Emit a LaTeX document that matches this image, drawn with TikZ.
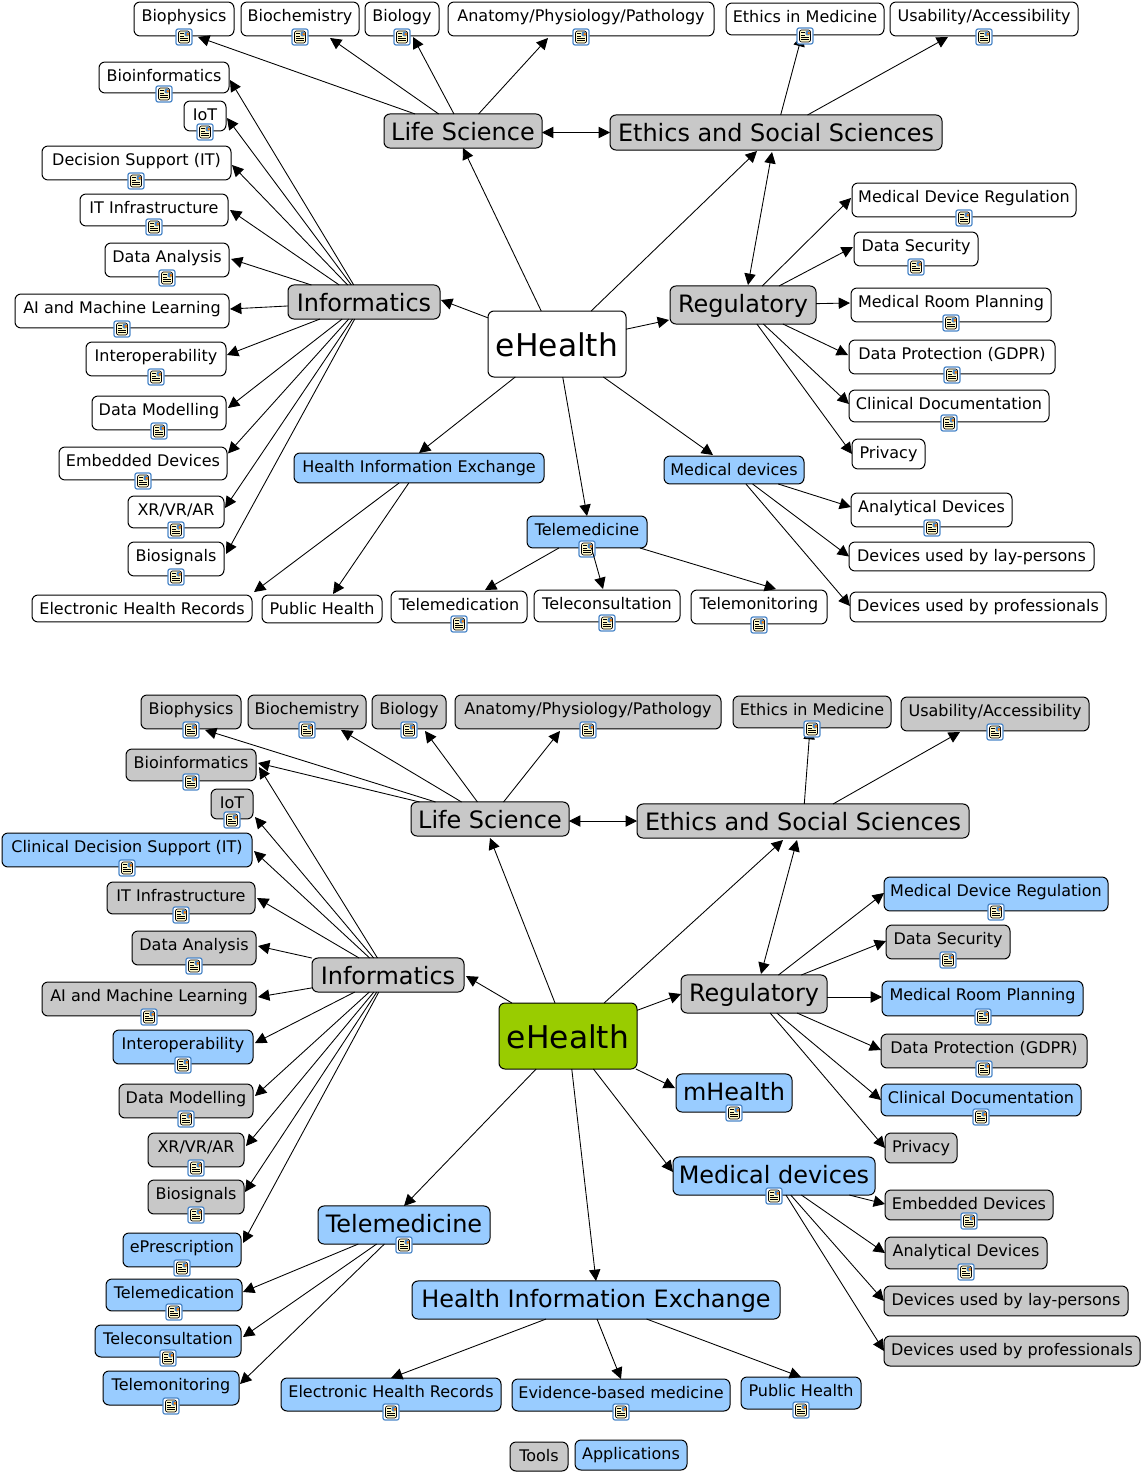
\documentclass[tikz,border=0pt]{standalone}
\usepackage{fontspec}
\setmainfont{DejaVu Sans}
\usetikzlibrary{arrows.meta}
\definecolor{greybox}{HTML}{C8C8C8}
\definecolor{bluebox}{HTML}{99CCFF}
\definecolor{greenbox}{HTML}{99CC00}
\definecolor{doctile}{HTML}{4A86C8}
\definecolor{docpaper}{HTML}{FFF8C8}
\newcommand{\fsmall}{\fontsize{12}{14}\selectfont}
\newcommand{\fbig}{\fontsize{17.95}{21}\selectfont}
\newcommand{\fhuge}{\fontsize{23.5}{28}\selectfont}
\tikzset{
  box/.style={draw=black,line width=0.75pt,rounded corners=4.5pt,inner sep=0pt,outer sep=0pt,font=\fsmall},
  plainbox/.style={box,fill=white},
  greyish/.style={box,fill=greybox},
  blueish/.style={box,fill=bluebox},
  bw/.style={minimum width=#1*0.75pt},
  bh/.style={text height=14.6pt,text depth=(#1-19.5)*0.75pt},
  gh/.style={font=\fbig,text height=19.6pt,text depth=(#1-26.1)*0.75pt},
  rootbox/.style={box,font=\fhuge,minimum width=103.5pt,text height=33.75pt,text depth=15.75pt},
  doc/.style={draw=doctile,line width=0.9pt,fill=white,rounded corners=1.5pt,inner sep=0pt,outer sep=0pt,
    minimum size=12pt,path picture={
      \draw[black,line width=0.5pt,fill=docpaper] ([shift={(-5.5,-6)}]path picture bounding box.center) rectangle ([shift={(5.5,6)}]path picture bounding box.center);
      \fill[doctile] ([shift={(0.5,-5.5)}]path picture bounding box.center) rectangle ([shift={(5,-0.5)}]path picture bounding box.center);
      \fill[orange] ([shift={(2.5,-4)}]path picture bounding box.center) rectangle ([shift={(5,-1.5)}]path picture bounding box.center);
      \draw[black,line width=0.5pt] ([shift={(-4,-4)}]path picture bounding box.center) -- ([shift={(-0.5,-4)}]path picture bounding box.center);
      \draw[black,line width=0.5pt] ([shift={(-4,-1)}]path picture bounding box.center) -- ([shift={(-0.5,-1)}]path picture bounding box.center);
      \draw[black,line width=0.5pt] ([shift={(-4,1.5)}]path picture bounding box.center) -- ([shift={(4,1.5)}]path picture bounding box.center);
      \draw[black,line width=0.5pt] ([shift={(-4,3.8)}]path picture bounding box.center) -- ([shift={(4,3.8)}]path picture bounding box.center);
    }},
  arr/.style={-{Triangle[length=8.5pt,width=8.5pt]},black,line width=0.65pt,shorten >=0pt},
  arrtw/.style={{Triangle[length=8.5pt,width=8.5pt]}-{Triangle[length=8.5pt,width=8.5pt]},black,line width=0.65pt}
}
\begin{document}
\begin{tikzpicture}[x=0.75pt,y=-0.75pt]
\useasboundingbox (0,0) rectangle (1142,1473);
% upper map
\node[plainbox,bw=100,bh=34] (tBiophys) at (184,19) {Biophysics};
\node[doc] (tBiophysDoc) at (184,37) {};
\node[plainbox,bw=118,bh=34] (tBiochem) at (300,19) {Biochemistry};
\node[doc] (tBiochemDoc) at (300,37) {};
\node[plainbox,bw=74,bh=34] (tBiology) at (402,19) {Biology};
\node[doc] (tBiologyDoc) at (402,37) {};
\node[plainbox,bw=266,bh=34] (tAnatomy) at (581,19) {Anatomy/Physiology/Pathology};
\node[doc] (tAnatomyDoc) at (581,37) {};
\node[plainbox,bw=158,bh=32] (tEthMed) at (805,19) {Ethics in Medicine};
\node[plainbox,bw=188,bh=34] (tUsab) at (984,19) {Usability/Accessibility};
\node[doc] (tUsabDoc) at (984,37) {};
\node[plainbox,bw=130,bh=31] (tBioinf) at (164,77.5) {Bioinformatics};
\node[doc] (tBioinfDoc) at (164,94) {};
\node[plainbox,bw=42,bh=30] (tIot) at (205,116) {IoT};
\node[doc] (tIotDoc) at (205,132) {};
\node[plainbox,bw=189,bh=34] (tDecSup) at (136.5,163) {Decision Support (IT)};
\node[doc] (tDecSupDoc) at (136,181) {};
\node[plainbox,bw=148,bh=32] (tInfra) at (154,210) {IT Infrastructure};
\node[doc] (tInfraDoc) at (154,227) {};
\node[plainbox,bw=124,bh=34] (tAnalysis) at (167,260) {Data Analysis};
\node[doc] (tAnalysisDoc) at (167,278) {};
\node[plainbox,bw=214,bh=34] (tAiMl) at (122,311) {AI and Machine Learning};
\node[doc] (tAiMlDoc) at (122,329) {};
\node[plainbox,bw=140,bh=34] (tInterop) at (156,359) {Interoperability};
\node[doc] (tInteropDoc) at (156,377) {};
\node[plainbox,bw=134,bh=34] (tModel) at (159,413) {Data Modelling};
\node[doc] (tModelDoc) at (159,431) {};
\node[plainbox,bw=168,bh=33] (tEmbed) at (143,463.5) {Embedded Devices};
\node[doc] (tEmbedDoc) at (143,481) {};
\node[plainbox,bw=96,bh=32] (tXr) at (176,512) {XR/VR/AR};
\node[doc] (tXrDoc) at (176,530) {};
\node[plainbox,bw=96,bh=34] (tSignals) at (176,559) {Biosignals};
\node[doc] (tSignalsDoc) at (176,577) {};
\node[plainbox,bw=220,bh=27] (tEhr) at (142,608.5) {Electronic Health Records};
\node[plainbox,bw=120,bh=28] (tPublic) at (322,609) {Public Health};
\node[plainbox,bw=136,bh=32] (tMedic) at (459,607) {Telemedication};
\node[doc] (tMedicDoc) at (459,624) {};
\node[plainbox,bw=146,bh=32] (tConsult) at (607,606) {Teleconsultation};
\node[doc] (tConsultDoc) at (607,623) {};
\node[plainbox,bw=136,bh=34] (tMonitor) at (759,607) {Telemonitoring};
\node[doc] (tMonitorDoc) at (759,625) {};
\node[blueish,bw=120,bh=32] (tTele) at (587,532) {Telemedicine};
\node[doc] (tTeleDoc) at (587,549) {};
\node[blueish,bw=250,bh=30] (tHie) at (419,468) {Health Information Exchange};
\node[blueish,bw=140,bh=28] (tDevices) at (734,470) {Medical devices};
\node[plainbox,bw=161,bh=34] (tAnalyt) at (931.5,510) {Analytical Devices};
\node[doc] (tAnalytDoc) at (932,528) {};
\node[plainbox,bw=245,bh=29] (tLay) at (971.5,556.5) {Devices used by lay-persons};
\node[plainbox,bw=256,bh=30] (tProf) at (978,607) {Devices used by professionals};
\node[plainbox,bw=73,bh=30] (tPrivacy) at (888.5,454) {Privacy};
\node[plainbox,bw=200,bh=32] (tClin) at (949,406) {Clinical Documentation};
\node[doc] (tClinDoc) at (949,423) {};
\node[plainbox,bw=206,bh=34] (tGdpr) at (952,357) {Data Protection (GDPR)};
\node[doc] (tGdprDoc) at (952,375) {};
\node[plainbox,bw=200,bh=34] (tRoom) at (951,305) {Medical Room Planning};
\node[doc] (tRoomDoc) at (951,323) {};
\node[plainbox,bw=124,bh=34] (tSecur) at (916,249) {Data Security};
\node[doc] (tSecurDoc) at (916,267) {};
\node[plainbox,bw=224,bh=34] (tMdr) at (964,200) {Medical Device Regulation};
\node[doc] (tMdrDoc) at (964,218) {};
\node[greyish,bw=146,gh=38] (tReg) at (743,305) {Regulatory};
\node[greyish,bw=152,gh=34] (tInfo) at (364,302) {Informatics};
\node[greyish,bw=158,gh=34] (tLife) at (463,131) {Life Science};
\node[greyish,bw=332,gh=35] (tSocial) at (776,132.5) {Ethics and Social Sciences};
\node[rootbox,fill=white] (tRoot) at (557,344) {eHealth};
% upper links
\draw[arr] (tLife) -- ([shift={(14,1)}]tBiophys.south);
\draw[arr] (tLife) -- ([shift={(30,2)}]tBiochem.south);
\draw[arr] (tLife) -- ([shift={(11,1)}]tBiology.south);
\draw[arr] (tLife) -- ([shift={(-33,2)}]tAnatomy.south);
\draw[arr] (tSocial) -- ([shift={(-3,0)}]tEthMed.south);
\node[doc] (tEthMedDoc) at (805,36) {};
\draw[arr] (tSocial) -- ([shift={(-36,1)}]tUsab.south);
\draw[arrtw] ([shift={(0,1.5)}]tLife.east) -- (tSocial.west);
\draw[arr] (tRoot) -- (tLife.south);
\draw[arr] (tRoot) -- ([shift={(-19,1)}]tSocial.south);
\draw[arrtw] ([shift={(-4,2)}]tSocial.south) -- ([shift={(5,-1)}]tReg.north);
\draw[arr] (tRoot) -- ([shift={(-1,15)}]tReg.west);
\draw[arr] (tRoot) -- ([shift={(1,-2)}]tInfo.east);
\draw[arr] (tRoot) -- (tHie.north);
\draw[arr] (tRoot) -- (tTele.north);
\draw[arr] (tRoot) -- ([shift={(-21,-1)}]tDevices.north);
\draw[arr] (tReg) -- ([shift={(-1,-2)}]tMdr.west);
\draw[arr] (tReg) -- ([shift={(-1,-2)}]tSecur.west);
\draw[arr] (tReg) -- ([shift={(-1,-2)}]tRoom.west);
\draw[arr] (tReg) -- ([shift={(-1,-2)}]tGdpr.west);
\draw[arr] (tReg) -- ([shift={(0,-2)}]tClin.west);
\draw[arr] (tReg) -- (tPrivacy.west);
\draw[arr] (tDevices) -- ([shift={(0,-3)}]tAnalyt.west);
\draw[arr] (tDevices) -- (tLay.west);
\draw[arr] (tDevices) -- ([shift={(0,-1)}]tProf.west);
\draw[arr] (tHie) -- ([shift={(2,-3)}]tEhr.north east);
\draw[arr] (tHie) -- ([shift={(11,-1)}]tPublic.north);
\draw[arr] (tTele) -- ([shift={(26,-1)}]tMedic.north);
\draw[arr] (tTele) -- ([shift={(-4,-1)}]tConsult.north);
\draw[arr] (tTele) -- ([shift={(17,-1)}]tMonitor.north);
\draw[arr] (tInfo) -- ([shift={(1,2.5)}]tBioinf.east);
\draw[arr] (tInfo) -- ([shift={(1,2)}]tIot.east);
\draw[arr] (tInfo) -- ([shift={(1,2)}]tDecSup.east);
\draw[arr] (tInfo) -- ([shift={(2,0)}]tInfra.east);
\draw[arr] (tInfo) -- ([shift={(2,-1)}]tAnalysis.east);
\draw[arr] (tInfo) -- ([shift={(1,-2)}]tAiMl.east);
\draw[arr] (tInfo) -- ([shift={(1,-4)}]tInterop.east);
\draw[arr] (tInfo) -- ([shift={(2,-5)}]tModel.east);
\draw[arr] (tInfo) -- ([shift={(1,-10)}]tEmbed.east);
\draw[arr] (tInfo) -- ([shift={(1,-4)}]tXr.east);
\draw[arr] (tInfo) -- ([shift={(2,-5)}]tSignals.east);
% lower map
\node[greyish,bw=100,bh=34] (bBiophys) at (191,712) {Biophysics};
\node[doc] (bBiophysDoc) at (191,730) {};
\node[greyish,bw=118,bh=34] (bBiochem) at (307,712) {Biochemistry};
\node[doc] (bBiochemDoc) at (307,730) {};
\node[greyish,bw=74,bh=34] (bBiology) at (409,712) {Biology};
\node[doc] (bBiologyDoc) at (409,730) {};
\node[greyish,bw=266,bh=34] (bAnatomy) at (588,712) {Anatomy/Physiology/Pathology};
\node[doc] (bAnatomyDoc) at (588,730) {};
\node[greyish,bw=158,bh=32] (bEthMed) at (812,712) {Ethics in Medicine};
\node[greyish,bw=188,bh=34] (bUsab) at (995,714) {Usability/Accessibility};
\node[doc] (bUsabDoc) at (995,732) {};
\node[greyish,bw=130,bh=32] (bBioinf) at (191,765) {Bioinformatics};
\node[doc] (bBioinfDoc) at (191,782) {};
\node[greyish,bw=42,bh=30] (bIot) at (232,804) {IoT};
\node[doc] (bIotDoc) at (232,820) {};
\node[blueish,bw=250,bh=34] (bDecSup) at (127,850) {Clinical Decision Support (IT)};
\node[doc] (bDecSupDoc) at (127,868) {};
\node[greyish,bw=148,bh=32] (bInfra) at (181,898) {IT Infrastructure};
\node[doc] (bInfraDoc) at (181,915) {};
\node[greyish,bw=124,bh=34] (bAnalysis) at (194,948) {Data Analysis};
\node[doc] (bAnalysisDoc) at (194,966) {};
\node[greyish,bw=214,bh=34] (bAiMl) at (149,999) {AI and Machine Learning};
\node[doc] (bAiMlDoc) at (149,1017) {};
\node[blueish,bw=140,bh=34] (bInterop) at (183,1047) {Interoperability};
\node[doc] (bInteropDoc) at (183,1065) {};
\node[greyish,bw=134,bh=34] (bModel) at (186,1101) {Data Modelling};
\node[doc] (bModelDoc) at (186,1119) {};
\node[greyish,bw=96,bh=34] (bXr) at (196,1150) {XR/VR/AR};
\node[doc] (bXrDoc) at (196,1168) {};
\node[greyish,bw=96,bh=34] (bSignals) at (196,1197) {Biosignals};
\node[doc] (bSignalsDoc) at (196,1215) {};
\node[blueish,bw=118,bh=34] (bPresc) at (182,1250) {ePrescription};
\node[doc] (bPrescDoc) at (182,1268) {};
\node[blueish,bw=136,bh=32] (bMedic) at (174,1295) {Telemedication};
\node[doc] (bMedicDoc) at (174,1312) {};
\node[blueish,bw=146,bh=32] (bConsult) at (168,1341) {Teleconsultation};
\node[doc] (bConsultDoc) at (168,1358) {};
\node[blueish,bw=136,bh=34] (bMonitor) at (171,1388) {Telemonitoring};
\node[doc] (bMonitorDoc) at (171,1406) {};
\node[blueish,bw=220,bh=33] (bEhr) at (391,1394.5) {Electronic Health Records};
\node[doc] (bEhrDoc) at (391,1412) {};
\node[blueish,bw=218,bh=32] (bEvid) at (621,1395) {Evidence-based medicine};
\node[doc] (bEvidDoc) at (621,1412) {};
\node[blueish,bw=120,bh=32] (bPublic) at (801,1393) {Public Health};
\node[doc] (bPublicDoc) at (801,1410) {};
\node[blueish,bw=368,gh=38] (bHie) at (596,1300) {Health Information Exchange};
\node[blueish,bw=172,gh=38] (bTele) at (404,1225) {Telemedicine};
\node[doc] (bTeleDoc) at (404,1245) {};
\node[blueish,bw=202,gh=38] (bDevices) at (774,1176) {Medical devices};
\node[doc] (bDevicesDoc) at (774,1196) {};
\node[blueish,bw=116,gh=38] (bMobile) at (734,1093) {mHealth};
\node[doc] (bMobileDoc) at (734,1113) {};
\node[greyish,bw=168,bh=30] (bEmbed) at (969,1205) {Embedded Devices};
\node[doc] (bEmbedDoc) at (969,1221) {};
\node[greyish,bw=162,bh=32] (bAnalyt) at (966,1253) {Analytical Devices};
\node[doc] (bAnalytDoc) at (966,1272) {};
\node[greyish,bw=244,bh=30] (bLay) at (1006,1301) {Devices used by lay-persons};
\node[greyish,bw=256,bh=30] (bProf) at (1012,1351) {Devices used by professionals};
\node[greyish,bw=72,bh=30] (bPrivacy) at (921,1148) {Privacy};
\node[blueish,bw=200,bh=32] (bClin) at (981,1100) {Clinical Documentation};
\node[doc] (bClinDoc) at (981,1117) {};
\node[greyish,bw=206,bh=34] (bGdpr) at (984,1051) {Data Protection (GDPR)};
\node[doc] (bGdprDoc) at (984,1069) {};
\node[blueish,bw=201,bh=35] (bRoom) at (982.5,998.5) {Medical Room Planning};
\node[doc] (bRoomDoc) at (983,1017) {};
\node[greyish,bw=124,bh=34] (bSecur) at (948,942) {Data Security};
\node[doc] (bSecurDoc) at (948,960) {};
\node[blueish,bw=224,bh=34] (bMdr) at (996,894) {Medical Device Regulation};
\node[doc] (bMdrDoc) at (996,912) {};
\node[greyish,bw=146,gh=38] (bReg) at (754,994) {Regulatory};
\node[greyish,bw=152,gh=34] (bInfo) at (388,975) {Informatics};
\node[greyish,bw=158,gh=34] (bLife) at (490,819) {Life Science};
\node[greyish,bw=332,gh=34] (bSocial) at (803,821) {Ethics and Social Sciences};
\node[rootbox,fill=greenbox] (bRoot) at (568,1036) {eHealth};
\node[greyish,bw=58,bh=29] (bTools) at (539,1456.5) {Tools};
\node[blueish,bw=112,bh=30] (bApps) at (631,1455) {Applications};
% lower links
\draw[arr] (bLife) -- ([shift={(14,1)}]bBiophys.south);
\draw[arr] (bLife) -- ([shift={(34,1)}]bBiochem.south);
\draw[arr] (bLife) -- ([shift={(16,2)}]bBiology.south);
\draw[arr] (bLife) -- ([shift={(-28,2)}]bAnatomy.south);
\draw[arr] (bLife) -- ([shift={(2,-2)}]bBioinf.east);
\draw[arr] (bSocial) -- ([shift={(-2,0)}]bEthMed.south);
\node[doc] (bEthMedDoc) at (812,729) {};
\draw[arr] (bSocial) -- ([shift={(-35,1)}]bUsab.south);
\draw[arrtw] ([shift={(0,2)}]bLife.east) -- (bSocial.west);
\draw[arr] (bRoot) -- ([shift={(0,2)}]bLife.south);
\draw[arr] (bRoot) -- ([shift={(-20,2)}]bSocial.south);
\draw[arrtw] ([shift={(-6,2)}]bSocial.south) -- ([shift={(7,-1)}]bReg.north);
\draw[arr] (bRoot) -- (bReg.west);
\draw[arr] (bRoot) -- ([shift={(2,1)}]bInfo.east);
\draw[arr] (bRoot) -- ([shift={(-1,-5)}]bMobile.west);
\draw[arr] (bRoot) -- ([shift={(0,-4)}]bDevices.west);
\draw[arr] (bRoot) -- (bHie.north);
\draw[arr] (bRoot) -- (bTele.north);
\draw[arr] (bReg) -- ([shift={(0,-1)}]bMdr.west);
\draw[arr] (bReg) -- ([shift={(0,-1)}]bSecur.west);
\draw[arr] ([shift={(0,3)}]bReg.east) -- ([shift={(0,-1.5)}]bRoom.west);
\draw[arr] (bReg) -- ([shift={(0,-1)}]bGdpr.west);
\draw[arr] (bReg) -- (bClin.west);
\draw[arr] (bReg) -- (bPrivacy.west);
\draw[arr] (bDevices) -- ([shift={(0,-1)}]bEmbed.west);
\draw[arr] (bDevices) -- (bAnalyt.west);
\draw[arr] (bDevices) -- (bLay.west);
\draw[arr] (bDevices) -- (bProf.west);
\draw[arr] (bTele) -- ([shift={(1,-3)}]bMedic.east);
\draw[arr] (bTele) -- ([shift={(2,-4)}]bConsult.east);
\draw[arr] (bTele) -- ([shift={(1,-4)}]bMonitor.east);
\draw[arr] (bHie) -- (bEhr.north);
\draw[arr] ([shift={(1,0)}]bHie.south) -- (bEvid.north);
\draw[arr] (bHie) -- (bPublic.north);
\draw[arr] (bInfo) -- ([shift={(3,2)}]bBioinf.east);
\draw[arr] (bInfo) -- ([shift={(2,13)}]bIot.east);
\draw[arr] (bInfo) -- ([shift={(2,1)}]bDecSup.east);
\draw[arr] (bInfo) -- ([shift={(2,0)}]bInfra.east);
\draw[arr] (bInfo) -- ([shift={(2,-2)}]bAnalysis.east);
\draw[arr] (bInfo) -- ([shift={(2,-2)}]bAiMl.east);
\draw[arr] (bInfo) -- ([shift={(2,-4)}]bInterop.east);
\draw[arr] (bInfo) -- ([shift={(2,-5)}]bModel.east);
\draw[arr] (bInfo) -- ([shift={(2,-4)}]bXr.east);
\draw[arr] (bInfo) -- ([shift={(1,-5)}]bSignals.east);
\draw[arr] (bInfo) -- ([shift={(2,-7)}]bPresc.east);
\end{tikzpicture}
\end{document}
